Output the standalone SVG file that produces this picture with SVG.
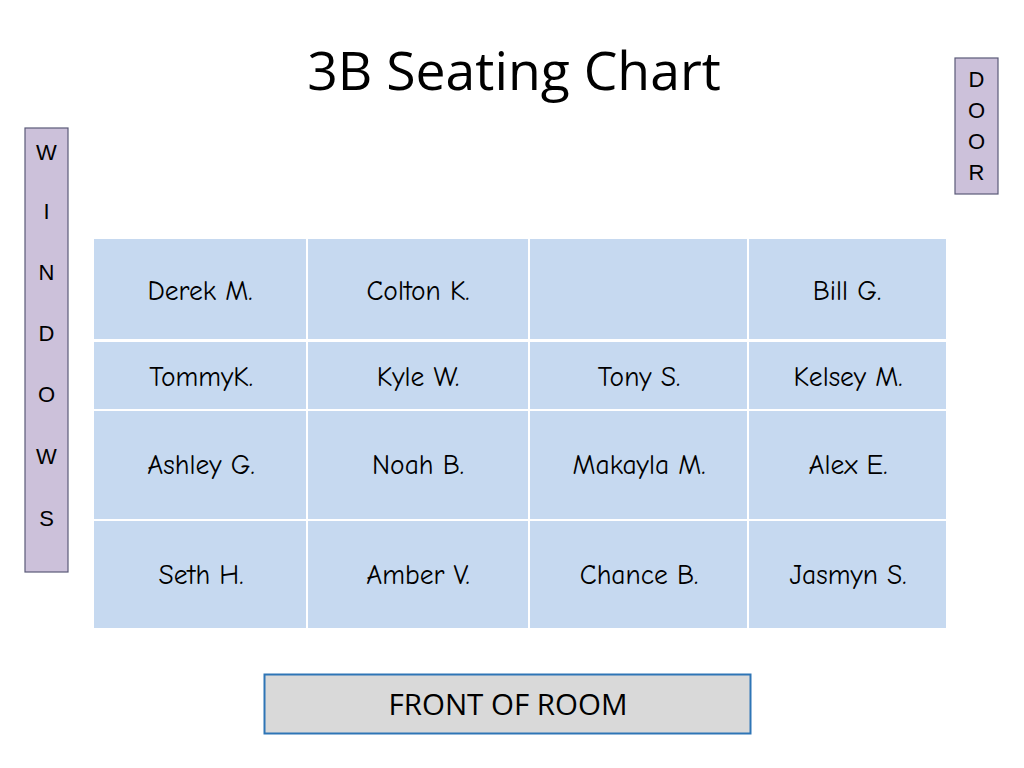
<svg xmlns="http://www.w3.org/2000/svg" width="1024" height="768" viewBox="0 0 1024 768">
<style>
.cell{fill:#c6d9f0}
.name{font-family:"Comic Neue","Open Sans","Noto Sans",sans-serif;font-size:27.5px;fill:#000;text-anchor:middle}
.side{fill:#ccc1da;stroke:#5a5a78;stroke-width:1.2}
.lt{font-family:"Liberation Sans",Arial,sans-serif;font-size:22px;fill:#000;text-anchor:middle}
</style>
<rect width="1024" height="768" fill="#fff"/>
<text id="title" x="514" y="90" font-family="Open Sans, Noto Sans, sans-serif" font-size="53.5" text-anchor="middle" fill="#000">3B Seating Chart</text>
<g id="windows">
<rect class="side" x="25" y="128" width="43" height="444"/>
<text class="lt" x="46.5" y="160">W</text>
<text class="lt" x="46.5" y="219">I</text>
<text class="lt" x="46.5" y="280">N</text>
<text class="lt" x="46.5" y="341">D</text>
<text class="lt" x="46.5" y="402">O</text>
<text class="lt" x="46.5" y="464">W</text>
<text class="lt" x="46.5" y="526">S</text>
</g>
<g id="door">
<rect class="side" x="955" y="58" width="43" height="136"/>
<text class="lt" x="976.5" y="87">D</text>
<text class="lt" x="976.5" y="118">O</text>
<text class="lt" x="976.5" y="149">O</text>
<text class="lt" x="976.5" y="180">R</text>
</g>
<g id="table">
<rect class="cell" x="94" y="239" width="212" height="100"/>
<rect class="cell" x="308" y="239" width="220" height="100"/>
<rect class="cell" x="530" y="239" width="217" height="100"/>
<rect class="cell" x="749" y="239" width="197" height="100"/>
<rect class="cell" x="94" y="342" width="212" height="67"/>
<rect class="cell" x="308" y="342" width="220" height="67"/>
<rect class="cell" x="530" y="342" width="217" height="67"/>
<rect class="cell" x="749" y="342" width="197" height="67"/>
<rect class="cell" x="94" y="411" width="212" height="108"/>
<rect class="cell" x="308" y="411" width="220" height="108"/>
<rect class="cell" x="530" y="411" width="217" height="108"/>
<rect class="cell" x="749" y="411" width="197" height="108"/>
<rect class="cell" x="94" y="521" width="212" height="107"/>
<rect class="cell" x="308" y="521" width="220" height="107"/>
<rect class="cell" x="530" y="521" width="217" height="107"/>
<rect class="cell" x="749" y="521" width="197" height="107"/>
<text class="name" x="200" y="300">Derek M.</text>
<text class="name" x="418" y="300">Colton K.</text>
<text class="name" x="847" y="300">Bill G.</text>
<text class="name" x="201" y="386">TommyK.</text>
<text class="name" x="418" y="386">Kyle W.</text>
<text class="name" x="639" y="386">Tony S.</text>
<text class="name" x="848" y="386">Kelsey M.</text>
<text class="name" x="201" y="474">Ashley G.</text>
<text class="name" x="418" y="474">Noah B.</text>
<text class="name" x="639" y="474">Makayla M.</text>
<text class="name" x="848" y="474">Alex E.</text>
<text class="name" x="201" y="584">Seth H.</text>
<text class="name" x="418" y="584">Amber V.</text>
<text class="name" x="639" y="584">Chance B.</text>
<text class="name" x="848" y="584">Jasmyn S.</text>
</g>
<g id="front">
<rect x="264.5" y="674.5" width="486" height="59" fill="#d9d9d9" stroke="#2e75b6" stroke-width="2"/>
<text x="508" y="715" font-family="Open Sans, Noto Sans, sans-serif" font-size="29.5" text-anchor="middle" fill="#000">FRONT OF ROOM</text>
</g>
<g id="connectors"/>
</svg>
